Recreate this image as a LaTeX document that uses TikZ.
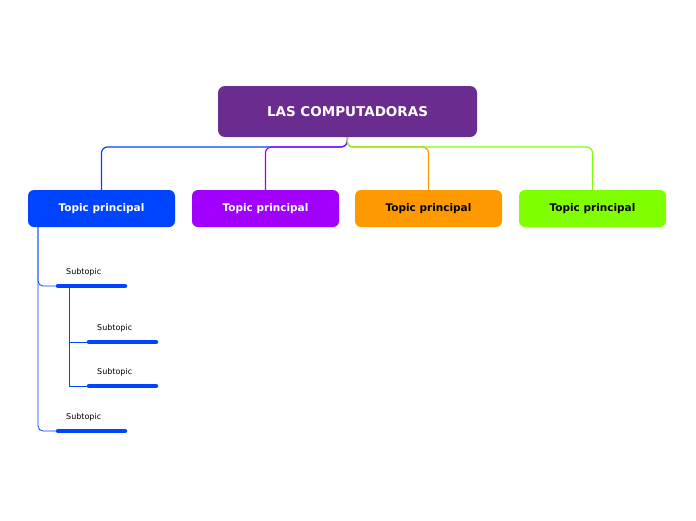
\documentclass[tikz,border=0pt]{standalone}
\usepackage{fontspec}
\setmainfont{DejaVu Sans}
\begin{document}
\begin{tikzpicture}[x=1pt,y=-1pt,
 topic/.style={rounded corners=6pt,minimum width=147pt,minimum height=37pt,font=\bfseries\fontsize{10.5}{12}\selectfont,inner sep=0pt},
 bar/.style={line width=4.5pt,blue0,line cap=round},
 lbl/.style={font=\fontsize{8}{10}\selectfont,anchor=west,inner sep=0pt},
 con/.style={line width=1.2pt,rounded corners=6pt}]
\definecolor{rootc}{HTML}{6A2C8E}
\definecolor{blue0}{HTML}{0044FF}
\definecolor{purp}{HTML}{A100FF}
\definecolor{orng}{HTML}{FF9900}
\definecolor{grn}{HTML}{80FF00}
\useasboundingbox (0,0) rectangle (696,520);
\node[fill=rootc,rounded corners=7pt,minimum width=259pt,minimum height=51pt,text=white,font=\bfseries\fontsize{13.5}{16}\selectfont] (root) at (347.5,111.5) {LAS COMPUTADORAS};
\node[topic,fill=blue0,text=white] (t1) at (101.5,208.5) {Topic principal};
\node[topic,fill=purp,text=white] (t2) at (265.5,208.5) {Topic principal};
\node[topic,fill=orng,text=black] (t3) at (428.5,208.5) {Topic principal};
\node[topic,fill=grn,text=black] (t4) at (592.5,208.5) {Topic principal};
\draw[con,blue0] (root.south) -- (347,147) -- (101.5,147) -- (t1.north);
\draw[con,purp] (root.south) -- (347,147) -- (265.5,147) -- (t2.north);
\draw[con,orng] (root.south) -- (347,147) -- (428.5,147) -- (t3.north);
\draw[con,grn] (root.south) -- (347,147) -- (592.5,147) -- (t4.north);
% subtopics
\coordinate (s1a) at (58,286); \coordinate (s1b) at (125,286);
\coordinate (s2a) at (89,342); \coordinate (s2b) at (156,342);
\coordinate (s3a) at (89,386); \coordinate (s3b) at (156,386);
\coordinate (s4a) at (58,431); \coordinate (s4b) at (125,431);
\draw[blue0,line width=0.8pt,rounded corners=5pt] (38,227) -- (38,286) -- (s1a);
\draw[blue0,line width=0.8pt,rounded corners=5pt] (38,227) -- (38,431) -- (s4a);
\draw[blue0,line width=0.8pt] (69,286) -- (69,386) -- (s3a);
\draw[blue0,line width=0.8pt] (69,342) -- (s2a);
\draw[bar] (s1a) -- (s1b);
\draw[bar] (s2a) -- (s2b);
\draw[bar] (s3a) -- (s3b);
\draw[bar] (s4a) -- (s4b);
\node[lbl] (l1) at (66,272) {Subtopic};
\node[lbl] (l2) at (97,328) {Subtopic};
\node[lbl] (l3) at (97,372) {Subtopic};
\node[lbl] (l4) at (66,417) {Subtopic};
\end{tikzpicture}
\end{document}
